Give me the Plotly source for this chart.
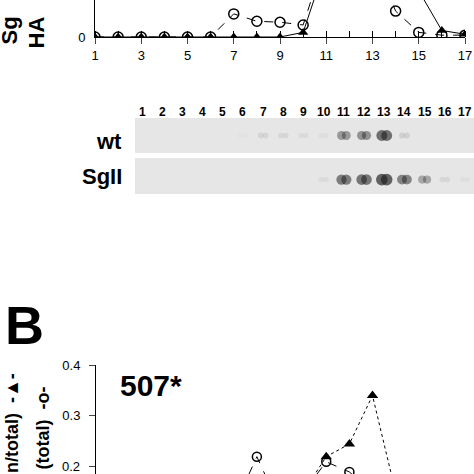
import plotly.graph_objects as go

# panel A profile (top is cropped in the reference)
fractions = list(range(1, 18))
open_a = [0, 0, 0, 0, 0, 0, 25, 17, 16, 13, 90, 95, 90, 28, 5, 2, 2]
tri_a = [0, 0, 0, 0, 0, 0, 0, 0, 0, 5, 80, 95, 95, 80, 50, 7, 3]
x_ticks = [1, 3, 5, 7, 9, 11, 13, 15, 17]

# gel band intensities per lane
lanes = list(range(1, 18))
wt_bands = [0, 0, 0, 0, 0, 0.03, 0.12, 0.1, 0.08, 0.05, 0.55, 0.6, 0.85, 0.15, 0, 0, 0]
sgii_bands = [0, 0, 0, 0, 0, 0, 0, 0, 0, 0.08, 0.75, 0.8, 0.95, 0.7, 0.45, 0.1, 0.05]

# panel B (507*), bottom is cropped
open_b_x = [7, 8, 9, 10, 11, 12, 13]
open_b = [0.12, 0.22, 0.12, 0.15, 0.21, 0.19, 0.15]
tri_b_x = [10, 11, 12, 13, 14]
tri_b = [0.15, 0.22, 0.245, 0.34, 0.15]
b_ticks = [0.2, 0.3, 0.4]

W = H = 474
def py(p):
    return 1 - p / H

fig = go.Figure()
xd = [95 / W, 465 / W]

# panel A
fig.add_trace(go.Scatter(x=fractions, y=open_a, mode="lines+markers", xaxis="x", yaxis="y",
                         line=dict(color="black", width=1, dash="dash"),
                         marker=dict(symbol="circle-open", size=10, color="black", line=dict(width=1.5))))
fig.add_trace(go.Scatter(x=fractions, y=tri_a, mode="lines+markers", xaxis="x", yaxis="y",
                         line=dict(color="black", width=1),
                         marker=dict(symbol="triangle-up", size=9, color="black")))

# gels: background strips and band spots
gel_x = [135 / W, 1]
shapes = []
for n, (bands, top, bot) in [(2, (wt_bands, 118, 153)), (3, (sgii_bands, 158, 194))]:
    shapes.append(dict(type="rect", xref="paper", yref="paper", x0=gel_x[0], x1=gel_x[1],
                       y0=py(bot), y1=py(top), fillcolor="#e6e6e6", line=dict(width=0), layer="below"))
    cols = [f"rgba(30,30,30,{b:.2f})" for b in bands]
    for dx in (-0.12, 0.12):
        fig.add_trace(go.Scatter(x=[ln + dx for ln in lanes], y=[0] * 17, mode="markers",
                                 xaxis=f"x{n}", yaxis=f"y{n}",
                                 marker=dict(symbol="circle", size=[5 + 7 * b for b in bands],
                                             color=cols, line=dict(width=0))))

# panel B
fig.add_trace(go.Scatter(x=open_b_x, y=open_b, mode="lines+markers", xaxis="x4", yaxis="y4",
                         line=dict(color="black", width=1, dash="dash"),
                         marker=dict(symbol="circle-open", size=9, color="black", line=dict(width=1.5))))
fig.add_trace(go.Scatter(x=tri_b_x, y=tri_b, mode="lines+markers", xaxis="x4", yaxis="y4",
                         line=dict(color="black", width=1, dash="dot"),
                         marker=dict(symbol="triangle-up", size=10, color="black")))

tickf = dict(family="Liberation Sans", size=13, color="black")
hid = dict(visible=False, automargin=False, fixedrange=True)
lane_rng = [1 - 7 / 20.19, 17 + 9 / 20.19]
fig.update_layout(
    width=W, height=H, margin=dict(l=0, r=0, t=0, b=0, autoexpand=False), showlegend=False,
    plot_bgcolor="rgba(0,0,0,0)", paper_bgcolor="white", shapes=shapes,
    xaxis=dict(domain=xd, range=[1, 17], anchor="y", tickvals=x_ticks, showgrid=False,
               showline=True, linecolor="black", ticks="outside", ticklen=6, tickfont=tickf,
               zeroline=False, automargin=False,
               minor=dict(dtick=1, ticks="inside", ticklen=6, tickcolor="black")),
    yaxis=dict(domain=[py(37), 1], range=[0, 40], anchor="x", tickvals=[0], showgrid=False,
               showline=True, linecolor="black", zeroline=False, tickfont=tickf, automargin=False,
               ticklabelstandoff=6),
    xaxis2=dict(domain=gel_x, range=lane_rng, anchor="y2", **hid),
    yaxis2=dict(domain=[py(153), py(118)], range=[-1, 1], anchor="x2", **hid),
    xaxis3=dict(domain=gel_x, range=lane_rng, anchor="y3", **hid),
    yaxis3=dict(domain=[py(194), py(158)], range=[-0.8, 1.2], anchor="x3", **hid),
    xaxis4=dict(domain=xd, range=[1, 17], anchor="y4", **hid),
    yaxis4=dict(domain=[0, py(365)], range=[0.186, 0.4], anchor="free", position=95 / W,
                tickvals=b_ticks, ticktext=["", "0.3", "0.4"], showgrid=False,
                showline=True, linecolor="black", ticks="outside", ticklen=6, tickfont=tickf,
                zeroline=False, automargin=False, ticklabelstandoff=6),
)

ann = []
for ln in lanes:
    ann.append(dict(x=ln, y=py(103), xref="x2", yref="paper", showarrow=False,
                    text=f"<b>{ln}</b>", font=dict(family="Liberation Sans", size=12, color="black")))
bold = "Liberation Sans"
ann += [
    # the lowest tick label sits at the page edge, plotly drops it, so draw it here
    dict(x=82 / W, y=b_ticks[0], xref="paper", yref="y4", xanchor="right", text="0.2",
         showarrow=False, font=tickf),
    dict(x=124 / W, y=py(127), xref="paper", yref="paper", xanchor="right", text="<b>wt</b>",
         showarrow=False, font=dict(family=bold, size=22, color="black")),
    dict(x=124 / W, y=py(176), xref="paper", yref="paper", xanchor="right", text="<b>SgII</b>",
         showarrow=False, font=dict(family=bold, size=22, color="black")),
    dict(x=3 / W, y=py(357), xref="paper", yref="paper", xanchor="left", text="<b>B</b>",
         showarrow=False, font=dict(family=bold, size=54, color="black")),
    dict(x=118 / W, y=py(404), xref="paper", yref="paper", xanchor="left", text="<b>507*</b>",
         showarrow=False, font=dict(family=bold, size=30, color="black")),
    dict(x=-5 / W, y=py(15), xref="paper", yref="paper", text="<b>Sg</b>", textangle=-90,
         showarrow=False, font=dict(family=bold, size=22, color="black")),
    dict(x=22 / W, y=py(15), xref="paper", yref="paper", text="<b>HA</b>", textangle=-90,
         showarrow=False, font=dict(family=bold, size=22, color="black")),
    dict(x=0 / W, y=py(475), xref="paper", yref="paper", text="<b>n/total)  -▲-</b>", textangle=-90,
         showarrow=False, font=dict(family=bold, size=18, color="black")),
    dict(x=30 / W, y=py(472), xref="paper", yref="paper", text="<b>(total)  -o-</b>", textangle=-90,
         showarrow=False, font=dict(family=bold, size=18, color="black")),
]
fig.update_layout(annotations=ann)
# the page's default body margin would shift the figure
fig.write_html("out.html", config={"displayModeBar": False},
               post_script="document.body.style.margin='0';")
